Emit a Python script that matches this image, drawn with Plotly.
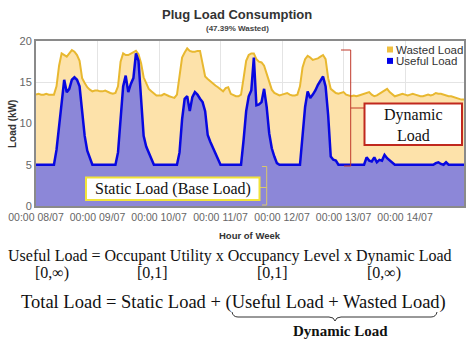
import pandas as pd
import plotly.graph_objects as go

# Hourly plug-load readings for one week (kW)
hours = pd.date_range("2013-07-08 00:00", periods=168, freq="h")

total_load = [
    # 08/07
    13.5, 13.6, 13.5, 13.5, 13.6, 13.5, 13.5, 13.5, 14.5, 17.0, 18.5, 18.3,
    18.1, 18.5, 18.9, 18.7, 18.3, 17.6, 15.5, 14.9, 14.4, 14.1, 13.9, 14.0,
    # 09/07
    14.0, 13.9, 13.9, 14.0, 13.8, 13.7, 13.6, 13.7, 14.5, 17.5, 18.5, 18.3,
    18.3, 18.5, 18.6, 18.8, 18.4, 17.3, 15.6, 14.8, 14.2, 13.9, 13.6, 13.4,
    # 10/07
    13.4, 13.4, 13.6, 13.4, 13.3, 13.2, 13.1, 13.5, 16.0, 18.0, 18.6, 19.1,
    18.8, 18.7, 18.7, 18.8, 18.8, 17.0, 15.7, 15.4, 15.1, 14.9, 14.6, 14.4,
    # 11/07
    14.2, 13.9, 14.3, 14.4, 13.6, 13.4, 13.3, 13.3, 13.5, 15.5, 17.6, 18.3,
    18.5, 18.5, 17.8, 17.5, 17.4, 17.0, 16.0, 15.0, 14.1, 13.7, 13.5, 13.4,
    # 12/07
    13.5, 13.6, 13.7, 13.5, 13.4, 13.4, 13.5, 14.5, 16.8, 17.8, 18.2, 18.0,
    17.7, 17.8, 17.9, 18.1, 18.3, 17.8, 15.5, 14.2, 13.9, 13.7, 13.6, 13.7,
    # 13/07
    13.8, 13.5, 13.4, 13.3, 13.4, 13.3, 13.4, 13.5, 13.6, 13.7, 13.8, 13.5,
    13.3, 13.4, 13.6, 13.8, 14.1, 14.2, 13.8, 13.5, 13.3, 13.4, 13.5, 13.6,
    # 14/07
    13.5, 13.4, 13.5, 13.6, 13.5, 13.4, 13.3, 13.3, 13.4, 13.5, 13.4, 13.5,
    13.7, 13.6, 13.6, 13.5, 13.4, 13.3, 13.3, 13.2, 13.1, 13.0, 12.9, 12.9,
]

useful_load = [
    # 08/07
    5.0, 5.0, 5.0, 5.0, 5.0, 5.0, 5.0, 5.0, 6.8, 9.5, 12.5, 15.3,
    13.8, 14.2, 15.3, 15.6, 15.3, 14.5, 11.5, 8.5, 6.7, 5.9, 5.0, 5.0,
    # 09/07
    5.0, 5.0, 5.0, 5.0, 5.0, 5.0, 5.0, 5.0, 6.5, 10.5, 14.5, 15.8,
    13.8, 14.8, 15.5, 18.5, 17.6, 13.0, 8.5, 7.2, 6.5, 5.8, 5.0, 5.0,
    # 10/07
    5.0, 5.0, 5.0, 5.0, 5.0, 5.0, 5.0, 5.0, 6.5, 10.5, 13.0, 13.3,
    11.5, 13.2, 13.8, 13.5, 13.0, 12.6, 11.5, 8.6, 7.8, 7.1, 6.4, 5.7,
    # 11/07
    5.0, 5.0, 5.0, 5.0, 5.0, 5.0, 5.0, 5.0, 5.0, 8.0, 11.5, 13.3,
    14.0, 18.0, 12.2, 12.3, 12.6, 14.2, 12.0, 8.8, 7.0, 6.0, 5.2, 5.0,
    # 12/07
    5.0, 5.0, 5.0, 5.0, 5.0, 5.0, 5.0, 5.0, 8.5, 12.0, 13.9, 13.1,
    13.5, 14.0, 14.7, 15.2, 15.7, 14.5, 11.0, 6.0, 5.6, 5.5, 5.0, 5.0,
    # 13/07
    5.0, 5.0, 5.0, 5.0, 5.0, 5.0, 5.0, 5.0, 5.0, 5.9, 5.5, 5.4,
    5.9, 5.3, 5.6, 5.5, 6.2, 5.8, 5.5, 5.2, 5.0, 5.0, 5.0, 5.0,
    # 14/07
    5.0, 5.0, 5.0, 5.0, 5.0, 5.0, 5.0, 5.0, 5.0, 5.0, 5.0, 5.0,
    5.2, 5.3, 5.1, 5.0, 5.3, 5.0, 5.0, 5.0, 5.0, 5.0, 5.0, 5.0,
]

series_names = ["Wasted Load", "Useful Load"]
series_line = ["#e8b830", "#0808e0"]
series_fill = ["#fde2aa", "#8c87d8"]
y_ticks = [0, 5, 10, 15, 20]

# plot-area geometry in page pixels
W, H = 474, 350
L, R, T, B = 36, 464, 41, 206


def px(x):
    return (x - L) / (R - L)


def py(y):
    return (B - y) / (B - T)


SERIF = "Liberation Serif, Times New Roman, serif"
SANS = "Liberation Sans, Arial, sans-serif"

fig = go.Figure()
fig.add_trace(go.Scatter(
    x=hours, y=total_load, name=series_names[0], mode="lines",
    line=dict(color=series_line[0], width=2), fill="tozeroy",
    fillcolor=series_fill[0], showlegend=False,
))
fig.add_trace(go.Scatter(
    x=hours, y=useful_load, name=series_names[1], mode="lines",
    line=dict(color=series_line[1], width=2.5), fill="tozeroy",
    fillcolor=series_fill[1], showlegend=False,
))

shapes = []
annotations = []

# Compact legend in the upper-right corner of the plot
for i, name in enumerate(series_names):
    cy = 49.5 + i * 11.4
    shapes.append(dict(type="rect", xref="paper", yref="paper",
                       x0=px(387), x1=px(393), y0=py(cy + 3), y1=py(cy - 3),
                       line=dict(width=0),
                       fillcolor="#f0c040" if i == 0 else "#0000e8"))
    annotations.append(dict(xref="paper", yref="paper", x=px(393.5), y=py(cy),
                            showarrow=False, text=name, xanchor="left",
                            yanchor="middle",
                            font=dict(family=SANS, size=11.5, color="#333")))

# Dynamic-load bracket and its label box
red = "#c0392b"
bx = 350.7
shapes += [
    dict(type="line", xref="paper", yref="paper", x0=px(bx), x1=px(bx),
         y0=py(50), y1=py(166), line=dict(color=red, width=1)),
    dict(type="line", xref="paper", yref="paper", x0=px(341), x1=px(bx),
         y0=py(50), y1=py(50), line=dict(color=red, width=1)),
    dict(type="line", xref="paper", yref="paper", x0=px(344), x1=px(bx),
         y0=py(166), y1=py(166), line=dict(color=red, width=1)),
    dict(type="line", xref="paper", yref="paper", x0=px(bx), x1=px(364),
         y0=py(108), y1=py(108), line=dict(color=red, width=1)),
    dict(type="rect", xref="paper", yref="paper", x0=px(364.5), x1=px(462),
         y0=py(145), y1=py(103.5), line=dict(color="#c0281e", width=2),
         fillcolor="white"),
]
annotations.append(dict(
    xref="paper", yref="paper", x=px(413), y=py(124.5), showarrow=False,
    text="Dynamic<br>Load", font=dict(family=SERIF, size=16, color="#111"),
    xanchor="center", yanchor="middle", align="center",
))

# Static-load bracket and its label box
yel = "#d9c86a"
sx = 266.7
shapes += [
    dict(type="line", xref="paper", yref="paper", x0=px(sx), x1=px(sx),
         y0=py(166.5), y1=py(205), line=dict(color=yel, width=1)),
    dict(type="line", xref="paper", yref="paper", x0=px(262), x1=px(sx),
         y0=py(166.5), y1=py(166.5), line=dict(color=yel, width=1)),
    dict(type="line", xref="paper", yref="paper", x0=px(262), x1=px(sx),
         y0=py(205), y1=py(205), line=dict(color=yel, width=1)),
    dict(type="line", xref="paper", yref="paper", x0=px(259.5), x1=px(sx),
         y0=py(187.5), y1=py(187.5), line=dict(color=yel, width=1)),
    dict(type="rect", xref="paper", yref="paper", x0=px(86), x1=px(259.5),
         y0=py(200), y1=py(177.5), line=dict(color="#f2e33a", width=2),
         fillcolor="white"),
]
annotations.append(dict(
    xref="paper", yref="paper", x=px(172.7), y=py(189), showarrow=False,
    text="Static Load (Base Load)", font=dict(family=SERIF, size=16, color="#111"),
    xanchor="center", yanchor="middle",
))

# Chart titles
annotations += [
    dict(xref="paper", yref="paper", x=px(237), y=py(14), showarrow=False,
         text="<b>Plug Load Consumption</b>",
         font=dict(family=SANS, size=13, color="#333"),
         xanchor="center", yanchor="middle"),
    dict(xref="paper", yref="paper", x=px(237), y=py(29), showarrow=False,
         text="<b>(47.39% Wasted)</b>",
         font=dict(family=SANS, size=8, color="#444"),
         xanchor="center", yanchor="middle"),
]

# Equations below the chart
annotations += [
    dict(xref="paper", yref="paper", x=px(230), y=py(256), showarrow=False,
         text="Useful Load = Occupant Utility x Occupancy Level x Dynamic Load",
         font=dict(family=SERIF, size=16, color="#111"),
         xanchor="center", yanchor="middle"),
    dict(xref="paper", yref="paper", x=px(52), y=py(272.5), showarrow=False,
         text="[0,∞)", font=dict(family=SERIF, size=16, color="#111"),
         xanchor="center", yanchor="middle"),
    dict(xref="paper", yref="paper", x=px(152), y=py(272.5), showarrow=False,
         text="[0,1]", font=dict(family=SERIF, size=16, color="#111"),
         xanchor="center", yanchor="middle"),
    dict(xref="paper", yref="paper", x=px(272), y=py(272.5), showarrow=False,
         text="[0,1]", font=dict(family=SERIF, size=16, color="#111"),
         xanchor="center", yanchor="middle"),
    dict(xref="paper", yref="paper", x=px(384), y=py(272.5), showarrow=False,
         text="[0,∞)", font=dict(family=SERIF, size=16, color="#111"),
         xanchor="center", yanchor="middle"),
    dict(xref="paper", yref="paper", x=px(233), y=py(302.5), showarrow=False,
         text="Total Load = Static Load + (Useful Load + Wasted Load)",
         font=dict(family=SERIF, size=18.5, color="#111"),
         xanchor="center", yanchor="middle"),
    dict(xref="paper", yref="paper", x=px(340), y=py(331), showarrow=False,
         text="<b>Dynamic Load</b>",
         font=dict(family=SERIF, size=15, color="#111"),
         xanchor="center", yanchor="middle"),
    dict(xref="paper", yref="paper", x=px(250), y=py(235), showarrow=False,
         text="<b>Hour of Week</b>",
         font=dict(family=SANS, size=9.5, color="#333"),
         xanchor="center", yanchor="middle"),
    dict(xref="paper", yref="paper", x=px(12), y=py(124), showarrow=False,
         text="<b>Load (kW)</b>", textangle=-90,
         font=dict(family=SANS, size=10, color="#333"),
         xanchor="center", yanchor="middle"),
]

# Underbrace spanning "(Useful Load + Wasted Load)"
pts = [(232, 312), (233, 317), (238, 317), (329, 317), (334, 317), (335, 321),
       (336, 317), (341, 317), (431, 317), (436, 317), (437, 312)]
P = [(px(a), py(b)) for a, b in pts]
path = (f"M {P[0][0]},{P[0][1]} Q {P[1][0]},{P[1][1]} {P[2][0]},{P[2][1]} "
        f"L {P[3][0]},{P[3][1]} Q {P[4][0]},{P[4][1]} {P[5][0]},{P[5][1]} "
        f"Q {P[6][0]},{P[6][1]} {P[7][0]},{P[7][1]} "
        f"L {P[8][0]},{P[8][1]} Q {P[9][0]},{P[9][1]} {P[10][0]},{P[10][1]}")
shapes.append(dict(type="path", xref="paper", yref="paper", path=path,
                   line=dict(color="#333", width=1)))

fig.update_layout(
    width=W, height=H,
    margin=dict(l=L, r=W - R, t=T, b=H - B, autoexpand=False),
    paper_bgcolor="white", plot_bgcolor="white",
    showlegend=False,
    shapes=shapes,
    annotations=annotations,
    xaxis=dict(
        range=[hours[0], hours[-1]], tickformat="%H:%M %d/%m",
        dtick=86400000, tick0=hours[0], tickangle=0, automargin=False,
        showgrid=True, gridcolor="#e4e4e4", gridwidth=1,
        showline=True, mirror=True, linecolor="#8a8a8a", linewidth=2,
        ticks="", tickfont=dict(family=SANS, size=10.5, color="#666"),
    ),
    yaxis=dict(
        range=[0, 20], tickvals=y_ticks, automargin=False,
        showgrid=True, gridcolor="#e4e4e4", gridwidth=1,
        showline=True, mirror=True, linecolor="#8a8a8a", linewidth=2,
        ticks="", tickfont=dict(family=SANS, size=11, color="#666"),
        zeroline=False,
    ),
)

fig.write_html("out.html")
